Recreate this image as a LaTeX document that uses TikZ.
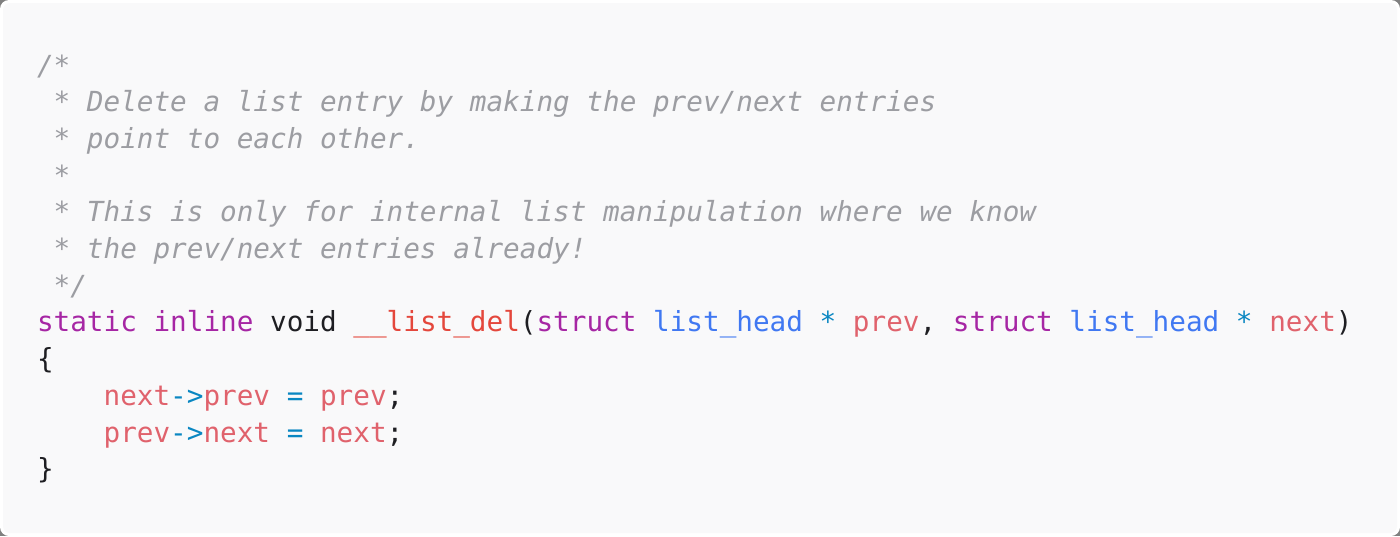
\documentclass[tikz,border=0pt]{standalone}
\usepackage{fontspec}
\setmonofont{DejaVu Sans Mono}
\definecolor{bgc}{HTML}{F9F9FA}
\definecolor{edgec}{HTML}{808080}
\definecolor{cmtc}{HTML}{9C9DA2}
\definecolor{kwc}{HTML}{A626A4}
\definecolor{typc}{HTML}{4078F2}
\definecolor{fnc}{HTML}{E4473C}
\definecolor{varc}{HTML}{E0626C}
\definecolor{opc}{HTML}{0A87C2}
\definecolor{txtc}{HTML}{1E1E22}
\newcommand\ckw[1]{\textcolor{kwc}{#1}}
\newcommand\ctyp[1]{\textcolor{typc}{#1}}
\newcommand\cfn[1]{\textcolor{fnc}{#1}}
\newcommand\cvar[1]{\textcolor{varc}{#1}}
\newcommand\cop[1]{\textcolor{opc}{#1}}
\tikzset{
  codeline/.style={anchor=base west, inner sep=0pt, outer sep=0pt, text=txtc,
    font=\ttfamily\fontsize{27.66pt}{36.7pt}\selectfont},
  cmtline/.style={codeline, text=cmtc, font=\ttfamily\itshape\fontsize{27.66pt}{36.7pt}\selectfont}
}
\begin{document}
\begin{tikzpicture}[x=1pt,y=1pt]
\useasboundingbox (0,0) rectangle (1400,-536);
\fill[edgec] (0,0) rectangle (1400,-536);
\fill[white, rounded corners=9pt] (0,0) rectangle (1400,-536);
\fill[bgc, rounded corners=7pt] (3,-3) rectangle (1397,-533);
\def\cw{16.65}
\node[cmtline] (l1) at (37,-75) {/*};
\node[cmtline] (l2) at (37+\cw,-111.7) {* Delete a list entry by making the prev/next entries};
\node[cmtline] (l3) at (37+\cw,-148.4) {* point to each other.};
\node[cmtline] (l4) at (37+\cw,-185.1) {*};
\node[cmtline] (l5) at (37+\cw,-221.8) {* This is only for internal list manipulation where we know};
\node[cmtline] (l6) at (37+\cw,-258.5) {* the prev/next entries already!};
\node[cmtline] (l7) at (37+\cw,-295.2) {*/};
\node[codeline] (l8) at (37,-331.9) {\ckw{static} \ckw{inline} void \cfn{\_\_list\_del}(\ckw{struct} \ctyp{list\_head} \cop{*} \cvar{prev}, \ckw{struct} \ctyp{list\_head} \cop{*} \cvar{next})};
\node[codeline] (l9) at (37,-368.6) {\{};
\node[codeline] (l10) at (37+4*\cw,-405.3) {\cvar{next}\cop{->}\cvar{prev} \cop{=} \cvar{prev};};
\node[codeline] (l11) at (37+4*\cw,-442) {\cvar{prev}\cop{->}\cvar{next} \cop{=} \cvar{next};};
\node[codeline] (l12) at (37,-478.7) {\}};
\end{tikzpicture}
\end{document}
